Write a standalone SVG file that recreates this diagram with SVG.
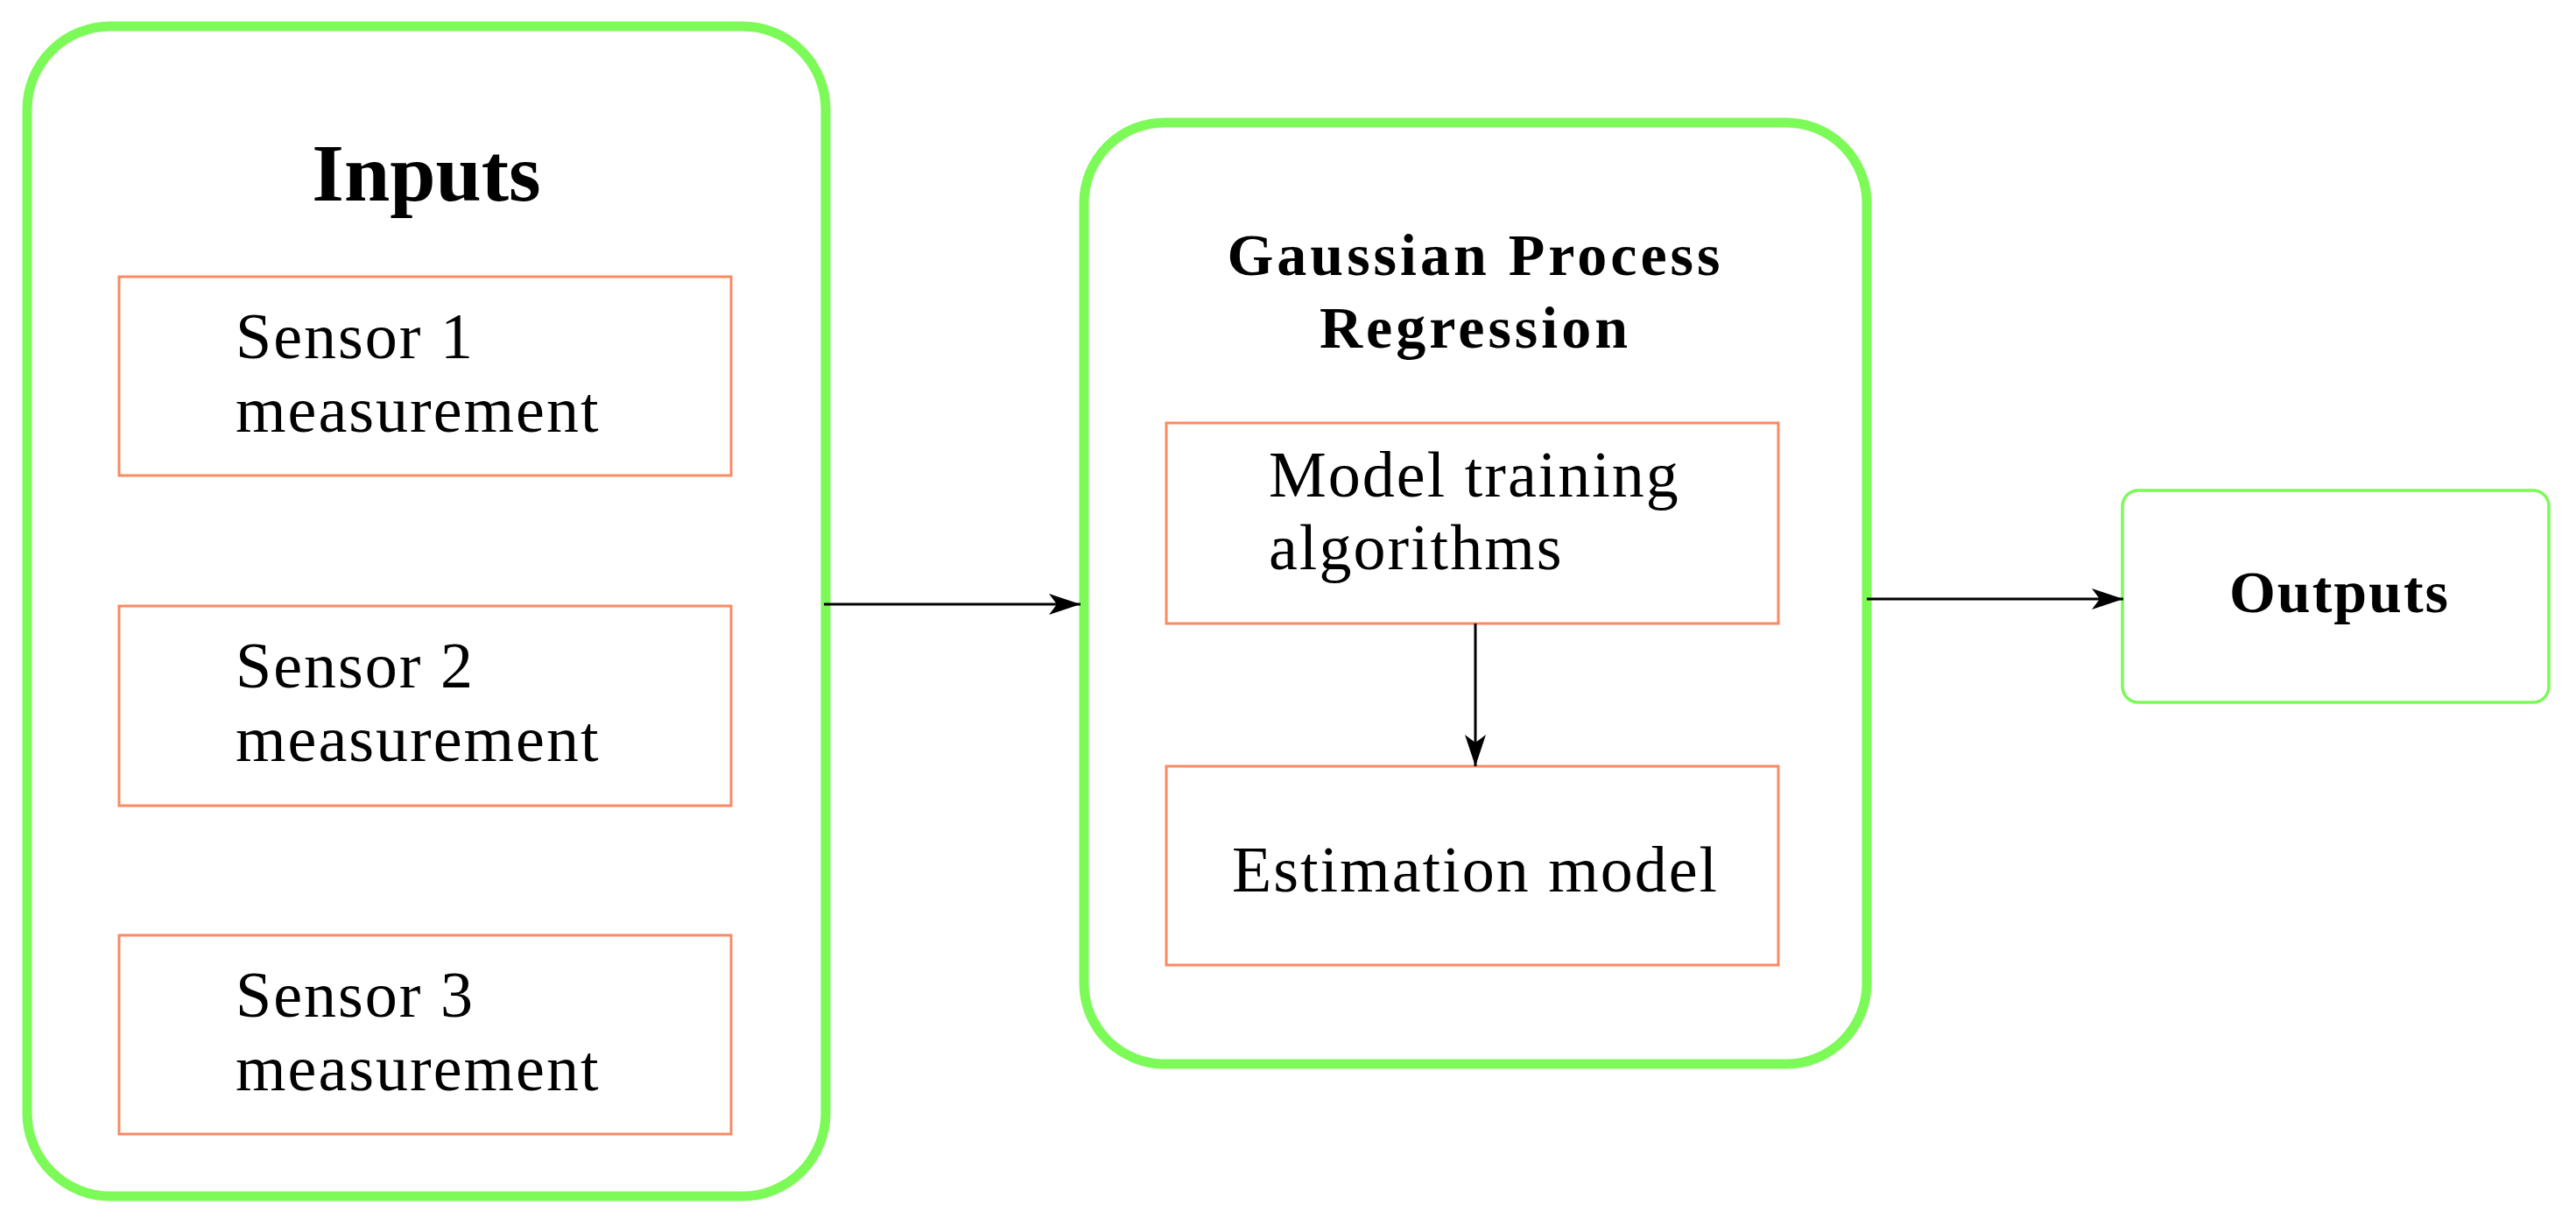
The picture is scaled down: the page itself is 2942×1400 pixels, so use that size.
<svg xmlns="http://www.w3.org/2000/svg" width="2942" height="1400" viewBox="0 0 2942 1400">
<style>
.big{fill:#fff;stroke:#7cfa57;stroke-width:11}
.sm{fill:#fff;stroke:#fa8a62;stroke-width:3}
.t{font-family:"Liberation Serif",serif;font-size:74px;letter-spacing:2px;fill:#000}
.b{font-family:"Liberation Serif",serif;font-weight:bold;fill:#000}
.c{stroke:#000;stroke-width:3;fill:none}
</style>
<defs><marker id="ah" viewBox="0 0 12 8" refX="12" refY="4" markerWidth="36" markerHeight="24" markerUnits="userSpaceOnUse" orient="auto"><path d="M0,0 L12,4 L0,8 L3,4z" fill="#000"/></marker></defs>
<rect width="2942" height="1400" fill="#fff"/>
<g id="inputs">
<rect class="big" x="31" y="30" width="912" height="1336" rx="95"/>
<text class="b" x="487" y="229" font-size="94" text-anchor="middle">Inputs</text>
</g>
<g id="sensor1"><rect class="sm" x="136" y="316" width="699" height="227"/>
<text class="t" x="269" y="409">Sensor 1</text><text class="t" x="269" y="493">measurement</text></g>
<g id="sensor2"><rect class="sm" x="136" y="692" width="699" height="228"/>
<text class="t" x="269" y="785">Sensor 2</text><text class="t" x="269" y="869">measurement</text></g>
<g id="sensor3"><rect class="sm" x="136" y="1068" width="699" height="227"/>
<text class="t" x="269" y="1161">Sensor 3</text><text class="t" x="269" y="1245">measurement</text></g>
<g id="gpr">
<rect class="big" x="1238" y="140" width="894" height="1075" rx="92"/>
<text class="b" x="1685" y="314" font-size="68" letter-spacing="4" text-anchor="middle">Gaussian Process</text>
<text class="b" x="1685" y="397" font-size="68" letter-spacing="4" text-anchor="middle">Regression</text>
</g>
<g id="training"><rect class="sm" x="1332" y="483" width="699" height="229"/>
<text class="t" x="1449" y="567">Model training</text><text class="t" x="1449" y="650">algorithms</text></g>
<g id="estimation"><rect class="sm" x="1332" y="875" width="699" height="227"/>
<text class="t" x="1407" y="1018">Estimation model</text></g>
<g id="outputs"><rect x="2424" y="560" width="487" height="242" rx="18" fill="#fff" stroke="#7cfa57" stroke-width="3.5"/>
<text class="b" x="2672" y="699" font-size="68" letter-spacing="2" text-anchor="middle">Outputs</text></g>
<g id="connectors">
<line class="c" x1="941" y1="690" x2="1234" y2="690" marker-end="url(#ah)"/>
<line class="c" x1="1685" y1="712" x2="1685" y2="875" marker-end="url(#ah)"/>
<line class="c" x1="2132" y1="684" x2="2425" y2="684" marker-end="url(#ah)"/>
</g>
</svg>
